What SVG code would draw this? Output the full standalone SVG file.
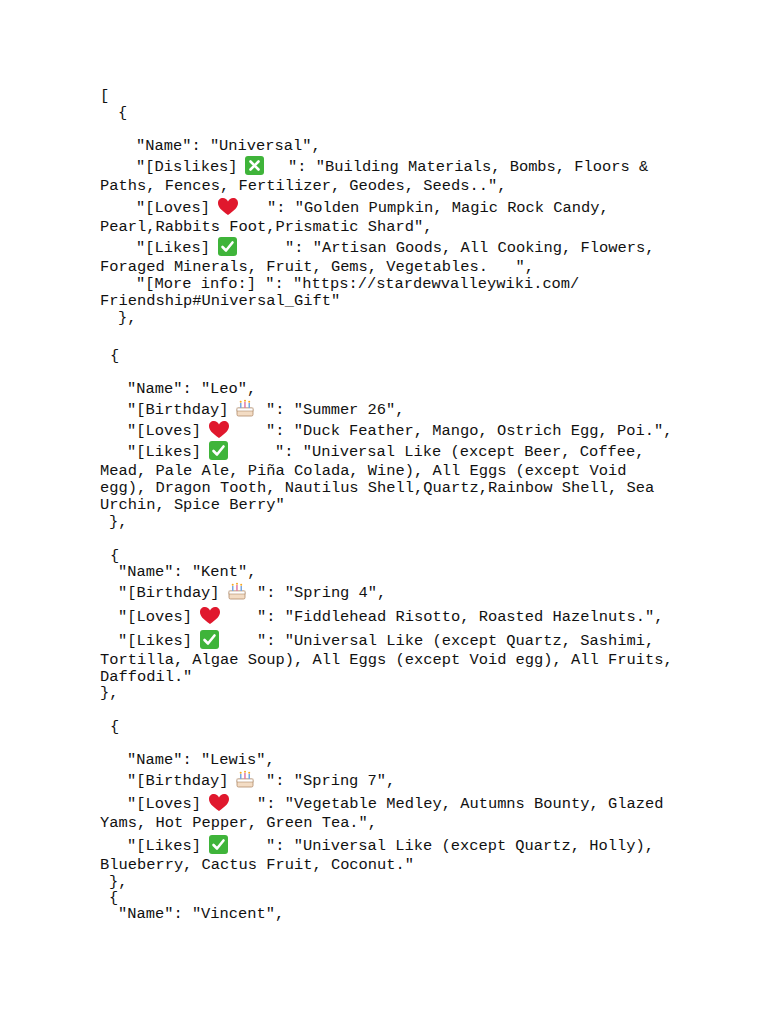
<svg xmlns="http://www.w3.org/2000/svg" width="768" height="1024" viewBox="0 0 768 1024">
<style>
text{font-family:"Liberation Mono","DejaVu Sans Mono",monospace;font-size:15.4px;fill:#111;white-space:pre}
</style>
<defs>
<g id="heart"><path d="M10 17 C3 12 0 9 0 5 C0 2 2 0 5 0 C7 0 9 1.5 10 3.5 C11 1.5 13 0 15 0 C18 0 20 2 20 5 C20 9 17 12 10 17Z" fill="#e0182d"/></g>
<g id="check"><rect width="19" height="19" rx="3" fill="#3fb43a"/><path d="M4.5 10 L8 13.5 L14.5 5.5" stroke="#fff" stroke-width="2.6" fill="none" stroke-linecap="round" stroke-linejoin="round"/></g>
<g id="cross"><rect width="19" height="19" rx="3" fill="#3fb43a"/><path d="M5.5 5.5 L13.5 13.5 M13.5 5.5 L5.5 13.5" stroke="#fff" stroke-width="2.6" stroke-linecap="round"/></g>
<g id="cake"><rect x="1" y="9" width="16" height="8" rx="1.5" fill="#f3dcc4" stroke="#b08a6a" stroke-width="0.8"/><rect x="1" y="9" width="16" height="3" fill="#fff" stroke="#b08a6a" stroke-width="0.6"/><rect x="4" y="4" width="1.5" height="5" fill="#7aa6e0"/><rect x="8.2" y="3" width="1.5" height="6" fill="#e07aa6"/><rect x="12.5" y="4" width="1.5" height="5" fill="#7aa6e0"/><circle cx="4.7" cy="2.8" r="1" fill="#f5a623"/><circle cx="9" cy="1.8" r="1" fill="#f5a623"/><circle cx="13.2" cy="2.8" r="1" fill="#f5a623"/></g>
</defs>
<g id="universal">
<text x="100" y="100">[</text>
<text x="118" y="117">{</text>
<text x="136" y="150">"Name": "Universal",</text>
<text x="136" y="171">"[Dislikes]</text><use href="#cross" x="245" y="156"/><text x="288" y="171">": "Building Materials, Bombs, Floors &amp;</text>
<text x="100" y="190">Paths, Fences, Fertilizer, Geodes, Seeds..",</text>
<text x="136" y="212">"[Loves]</text><use href="#heart" x="218" y="198"/><text x="267" y="212">": "Golden Pumpkin, Magic Rock Candy,</text>
<text x="100" y="231">Pearl,Rabbits Foot,Prismatic Shard",</text>
<text x="136" y="252">"[Likes]</text><use href="#check" x="218" y="237"/><text x="285" y="252">": "Artisan Goods, All Cooking, Flowers,</text>
<text x="100" y="271">Foraged Minerals, Fruit, Gems, Vegetables.   ",</text>
<text x="136" y="288">"[More info:] ": "https://stardewvalleywiki.com/</text>
<text x="100" y="305">Friendship#Universal_Gift"</text>
<text x="118" y="322">},</text>
</g>
<g id="leo">
<text x="110" y="360">{</text>
<text x="127" y="393">"Name": "Leo",</text>
<text x="127" y="414">"[Birthday]</text><use href="#cake" x="236" y="399"/><text x="266" y="414">": "Summer 26",</text>
<text x="127" y="435">"[Loves]</text><use href="#heart" x="209" y="421"/><text x="266" y="435">": "Duck Feather, Mango, Ostrich Egg, Poi.",</text>
<text x="127" y="456">"[Likes]</text><use href="#check" x="209" y="441"/><text x="275" y="456">": "Universal Like (except Beer, Coffee,</text>
<text x="100" y="475">Mead, Pale Ale, Piña Colada, Wine), All Eggs (except Void</text>
<text x="100" y="492">egg), Dragon Tooth, Nautilus Shell,Quartz,Rainbow Shell, Sea</text>
<text x="100" y="509">Urchin, Spice Berry"</text>
<text x="109" y="526">},</text>
</g>
<g id="kent">
<text x="110" y="560">{</text>
<text x="118" y="576">"Name": "Kent",</text>
<text x="118" y="597">"[Birthday]</text><use href="#cake" x="228" y="582"/><text x="257" y="597">": "Spring 4",</text>
<text x="118" y="621">"[Loves]</text><use href="#heart" x="200" y="607"/><text x="257" y="621">": "Fiddlehead Risotto, Roasted Hazelnuts.",</text>
<text x="118" y="645">"[Likes]</text><use href="#check" x="200" y="630"/><text x="257" y="645">": "Universal Like (except Quartz, Sashimi,</text>
<text x="100" y="664">Tortilla, Algae Soup), All Eggs (except Void egg), All Fruits,</text>
<text x="100" y="681">Daffodil."</text>
<text x="100" y="697">},</text>
</g>
<g id="lewis">
<text x="110" y="731">{</text>
<text x="127" y="764">"Name": "Lewis",</text>
<text x="127" y="785">"[Birthday]</text><use href="#cake" x="236" y="770"/><text x="266" y="785">": "Spring 7",</text>
<text x="127" y="808">"[Loves]</text><use href="#heart" x="209" y="794"/><text x="257" y="808">": "Vegetable Medley, Autumns Bounty, Glazed</text>
<text x="100" y="827">Yams, Hot Pepper, Green Tea.",</text>
<text x="127" y="850">"[Likes]</text><use href="#check" x="209" y="835"/><text x="266" y="850">": "Universal Like (except Quartz, Holly),</text>
<text x="100" y="869">Blueberry, Cactus Fruit, Coconut."</text>
<text x="109" y="886">},</text>
</g>
<g id="vincent">
<text x="109" y="902">{</text>
<text x="118" y="918">"Name": "Vincent",</text>
</g>
</svg>
